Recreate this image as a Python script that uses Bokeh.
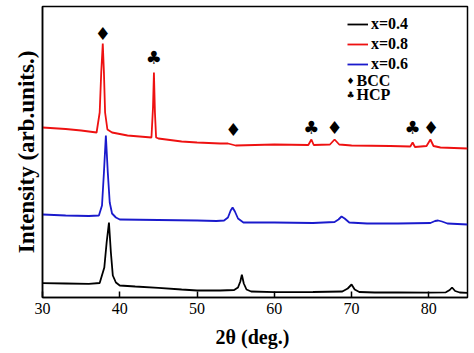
from bokeh.plotting import figure
from bokeh.models import Range1d, Legend, LegendItem, Label
from bokeh.core.properties import value
from bokeh.embed import file_html
from bokeh.resources import INLINE

# ---- data (2theta in degrees, intensity in arbitrary units) ----
x04_t = [30, 33, 36, 37.4, 38.0, 38.3, 38.6, 38.85, 39.1, 39.5, 40, 42, 45, 48, 50, 53, 54.8, 55.3,
         55.6, 55.8, 56.05, 56.4, 57, 60, 65, 68.8, 69.5, 70.0, 70.4, 71, 73, 76, 80, 82.2, 82.7,
         83.0, 83.4, 84, 85]
x04_i = [14.3, 14.0, 13.7, 14.5, 30, 55, 75, 45, 22, 15, 12, 11, 9.7, 8, 7, 7, 7.5, 10,
         16, 22.7, 14, 8, 6, 5.3, 5.5, 6, 9, 13, 8, 5.5, 5, 5, 4.8, 5.2, 7.5,
         10, 6.5, 5, 4.7]

x06_t = [30, 33, 36, 37.3, 37.7, 37.95, 38.2, 38.45, 38.7, 39.0, 39.5, 40, 45, 50, 52.5, 53.5, 54.0,
         54.35, 54.6, 54.9, 55.3, 56, 60, 65, 67.8, 68.3, 68.7, 69.1, 69.7, 72, 76, 80.2, 80.8,
         81.2, 81.7, 82.4, 85]
x06_i = [83, 82, 81.5, 82, 92, 125, 162, 125, 95, 84, 80, 78, 77.5, 77, 76.5, 77, 80,
         87, 90, 86, 79, 75, 75, 74.5, 75.5, 78, 81, 79, 75, 74, 74, 74.5, 76.5,
         77, 76, 74, 73]

x08_t = [30, 33, 35, 37.0, 37.4, 37.6, 37.8, 37.95, 38.1, 38.4, 39, 41, 44.1, 44.3, 44.42, 44.55,
         44.7, 45, 48, 50, 53, 54, 55, 60, 64.4, 64.8, 65.1, 67.2, 67.8, 68.4, 70, 75, 77.6,
         77.9, 78.2, 79.7, 80.2, 80.6, 81.5, 85]
x08_i = [170, 168.5, 167, 165, 185, 225, 254, 225, 185, 168, 165, 162, 160, 190, 225, 185,
         160, 159, 156, 155, 154, 154, 152, 153, 152.5, 158, 152.5, 153, 158, 153, 152, 151.5, 151,
         155, 150.5, 151.5, 158, 151.5, 150, 149]

bcc_t = [37.8, 54.7, 67.8, 80.3]
bcc_i = [264, 168, 170, 170]
hcp_t = [44.4, 64.8, 77.9]
hcp_i = [240, 170, 170]

x_ticks = [30, 40, 50, 60, 70, 80]

SERIF = "Liberation Serif"

p = figure(width=474, height=353, output_backend="svg", toolbar_location=None,
           x_range=Range1d(30, 85), y_range=Range1d(0, 291),
           min_border_left=42, min_border_right=7, min_border_top=6, min_border_bottom=56)
p.background_fill_color = "white"
p.border_fill_color = "white"
p.outline_line_color = "black"
p.outline_line_width = 1.5
p.xgrid.visible = False
p.ygrid.visible = False

r04 = p.line(x04_t, x04_i, line_color="black", line_width=1.8)
r08 = p.line(x08_t, x08_i, line_color="#ee1111", line_width=1.8)
r06 = p.line(x06_t, x06_i, line_color="#1a1acc", line_width=1.8)

p.text(x=bcc_t, y=bcc_i, text=["\u2666"] * len(bcc_t), text_align="center", text_baseline="middle",
       text_font=value("DejaVu Sans"), text_font_size="18px", text_color="black")
p.text(x=hcp_t, y=hcp_i, text=["\u2663"] * len(hcp_t), text_align="center", text_baseline="middle",
       text_font=value("DejaVu Sans"), text_font_size="18px", text_color="black")

# axes
xa = p.xaxis[0]
xa.ticker = x_ticks
xa.ticker.num_minor_ticks = 2
xa.major_tick_in = 6
xa.major_tick_out = 0
xa.minor_tick_in = 3
xa.minor_tick_out = 0
xa.axis_line_width = 1.5
xa.major_tick_line_width = 1.5
xa.minor_tick_line_width = 1.5
xa.major_label_text_font = SERIF
xa.major_label_text_font_size = "16px"
xa.major_label_text_color = "black"
xa.major_label_standoff = 5
xa.axis_label = "2\u03b8  (deg.)"
xa.axis_label_text_font = SERIF
xa.axis_label_text_font_style = "bold"
xa.axis_label_text_font_size = "20px"
xa.axis_label_text_color = "black"
xa.axis_label_standoff = 9

ya = p.yaxis[0]
ya.ticker = []
ya.major_tick_line_color = None
ya.minor_tick_line_color = None
ya.major_label_text_font_size = "0px"
ya.major_tick_in = 0
ya.major_tick_out = 0
ya.minor_tick_in = 0
ya.minor_tick_out = 0
ya.axis_line_width = 1.5
ya.axis_label = "Intensity (arb.units.)"
ya.axis_label_text_font = SERIF
ya.axis_label_text_font_style = "bold"
ya.axis_label_text_font_size = "23px"
ya.axis_label_text_color = "black"
ya.axis_label_standoff = 4

legend = Legend(items=[LegendItem(label="x=0.4", renderers=[r04]),
                       LegendItem(label="x=0.8", renderers=[r08]),
                       LegendItem(label="x=0.6", renderers=[r06])],
                location=(305, 223), margin=0, padding=0, spacing=0,
                glyph_width=21, glyph_height=20, label_height=20, label_standoff=3,
                label_text_font=SERIF, label_text_font_style="bold", label_text_font_size="16px",
                label_text_color="black", border_line_alpha=0, background_fill_alpha=0)
p.add_layout(legend)

for sym, txt, yy in [("\u2666", "BCC", 217), ("\u2663", "HCP", 203)]:
    p.add_layout(Label(x=308, y=yy, x_units="screen", y_units="screen", text=sym,
                       text_font="DejaVu Sans", text_font_size="9px", text_align="center",
                       text_baseline="middle", text_color="black"))
    p.add_layout(Label(x=314, y=yy, x_units="screen", y_units="screen", text=txt,
                       text_font=SERIF, text_font_style="bold", text_font_size="16px",
                       text_align="left", text_baseline="middle", text_color="black"))

open("out.html", "w").write(file_html(p, INLINE))
